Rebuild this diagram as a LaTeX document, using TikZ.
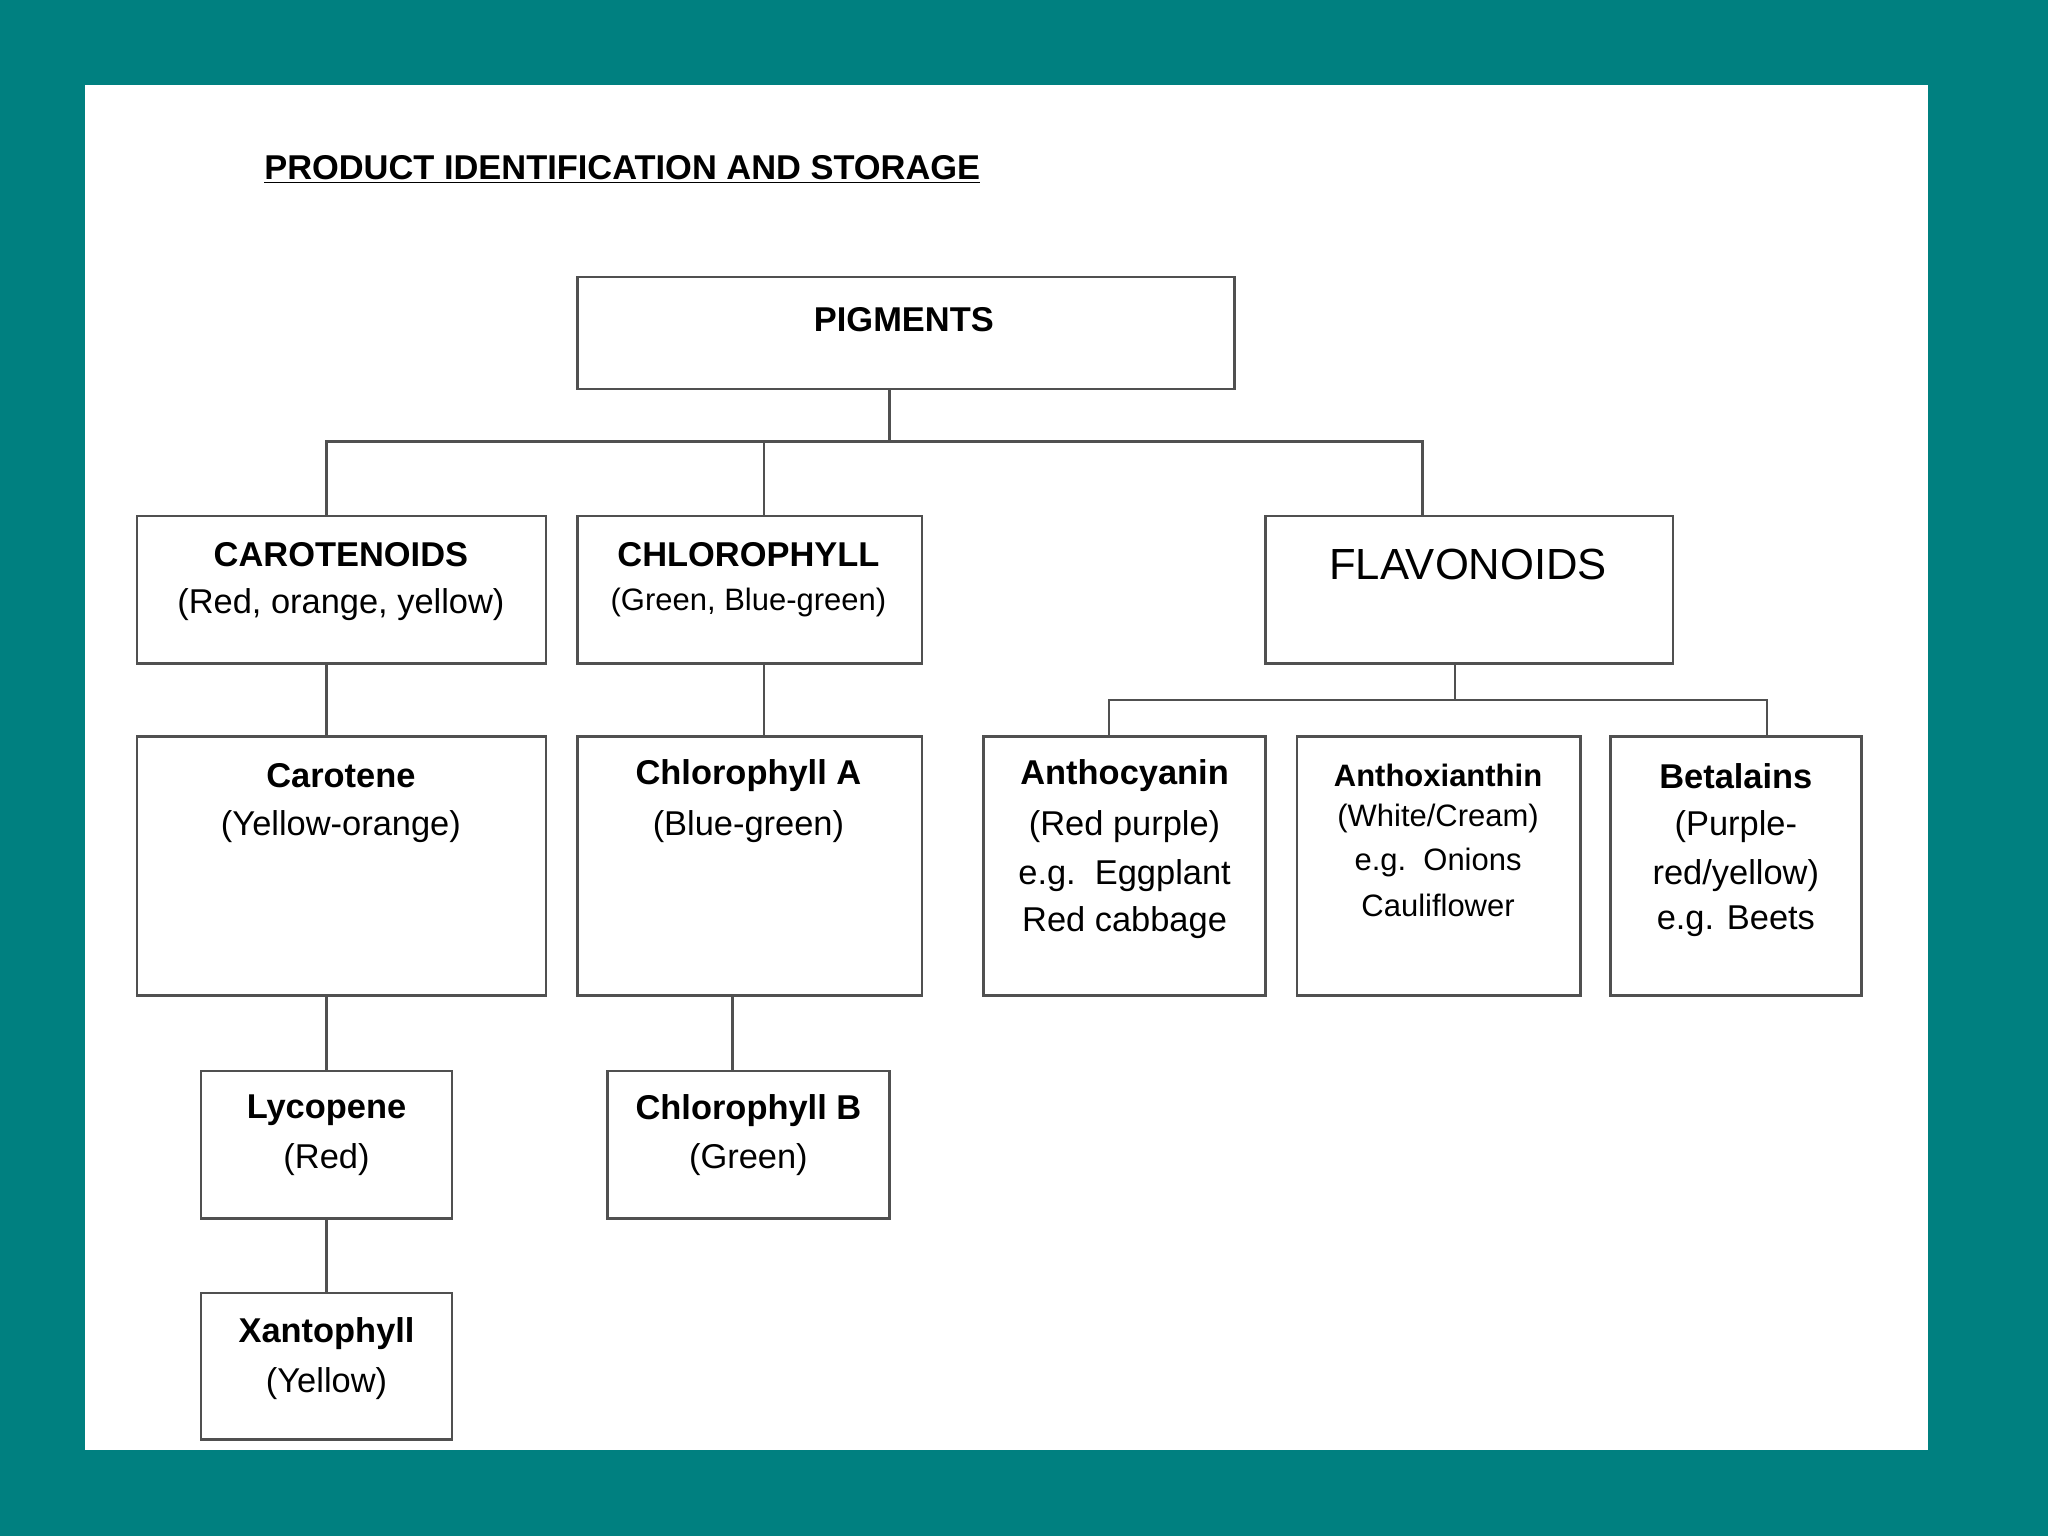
\documentclass[tikz,border=0pt]{standalone}
\usepackage{fontspec}
\setmainfont{Liberation Sans}
\definecolor{teal0}{RGB}{0,128,128}
\definecolor{ln}{RGB}{80,80,80}
\begin{document}
\begin{tikzpicture}[x=0.02cm,y=-0.02cm,
 box/.style={draw=ln,line width=1.1pt,inner sep=0,rectangle},
 con/.style={draw=ln,line width=1.1pt},
 t/.style={font=\fontsize{15}{18}\selectfont,inner sep=0},
 tb/.style={font=\fontsize{15}{18}\selectfont\bfseries,inner sep=0}]
\fill[teal0] (0,0) rectangle (1568,1176);
\useasboundingbox (0,0) rectangle (1568,1176);
\fill[white] (65,65) rectangle (1476,1110);
\node[anchor=west,inner sep=0,font=\fontsize{15}{18}\selectfont\bfseries] (title) at (202,130) {\underline{PRODUCT IDENTIFICATION AND STORAGE}};
% boxes
\newcommand\bx[5]{\node[box,minimum width={(#4-#2)*0.02cm},minimum height={(#5-#3)*0.02cm}] (#1) at ({(#2+#4)/2},{(#3+#5)/2}) {};}
\bx{pig}{442}{212}{945}{298}
\bx{car}{105}{395}{418}{508}
\bx{chl}{442}{395}{706}{508}
\bx{fla}{969}{395}{1281}{508}
\bx{cat}{105}{564}{418}{762}
\bx{cha}{442}{564}{706}{762}
\bx{ant}{753}{564}{969}{762}
\bx{anx}{993}{564}{1210}{762}
\bx{bet}{1233}{564}{1425}{762}
\bx{lyc}{154}{820}{346}{933}
\bx{chb}{465}{820}{681}{933}
\bx{xan}{154}{990}{346}{1102}
% texts
\node[tb] (tpig) at (692,245) {PIGMENTS};
\node[tb] (tcar1) at (261,425) {CAROTENOIDS};
\node[t] (tcar2) at (261,463) {(Red, orange, yellow)};
\node[tb] (tchl1) at (573,425) {CHLOROPHYLL};
\node[t,font=\fontsize{13.5}{16}\selectfont] (tchl2) at (573,461) {(Green, Blue-green)};
\node[t,font=\fontsize{19}{22}\selectfont] (tfla) at (1124,432) {FLAVONOIDS};
\node[tb] (tcat1) at (261,594) {Carotene};
\node[t] (tcat2) at (261,633) {(Yellow-orange)};
\node[tb] (tcha1) at (573,594) {Chlorophyll A};
\node[t] (tcha2) at (573,633) {(Blue-green)};
\node[tb] (tant1) at (861,594) {Anthocyanin};
\node[t] (tant2) at (861,633) {(Red purple)};
\node[t] (tant3) at (861,670) {e.g.\ \ Eggplant};
\node[t] (tant4) at (861,706) {Red cabbage};
\node[tb,font=\fontsize{13.5}{16}\selectfont\bfseries] (tanx1) at (1101,594) {Anthoxianthin};
\node[t,font=\fontsize{13.5}{16}\selectfont] (tanx2) at (1101,627) {(White/Cream)};
\node[t,font=\fontsize{13.5}{16}\selectfont] (tanx3) at (1101,660) {e.g.\ \ Onions};
\node[t,font=\fontsize{13.5}{16}\selectfont] (tanx4) at (1101,693) {Cauliflower};
\node[tb] (tbet1) at (1329,594) {Betalains};
\node[t] (tbet2) at (1329,633) {(Purple-};
\node[t] (tbet3) at (1329,670) {red/yellow)};
\node[t] (tbet4) at (1329,705) {e.g. Beets};
\node[tb] (tlyc1) at (250,850) {Lycopene};
\node[t] (tlyc2) at (250,888) {(Red)};
\node[tb] (tchb1) at (573,850) {Chlorophyll B};
\node[t] (tchb2) at (573,888) {(Green)};
\node[tb] (txan1) at (250,1021) {Xantophyll};
\node[t] (txan2) at (250,1059) {(Yellow)};
% connectors
\coordinate (b1) at (681,338);
\coordinate (b2) at (1114,536);
\draw[con] (pig.south -| b1) -- (b1);
\draw[con] (car.north -| 250,0) |- (b1) -| (fla.north -| 1089,0);
\draw[con] (chl.north -| 585,0) -- (585,338);
\draw[con] (fla.south -| b2) -- (b2);
\draw[con] (ant.north -| 849,0) |- (b2) -| (bet.north -| 1353,0);
\draw[con] (car.south -| 250,0) -- (cat.north -| 250,0);
\draw[con] (chl.south -| 585,0) -- (cha.north -| 585,0);
\draw[con] (cat.south -| 250,0) -- (lyc.north -| 250,0);
\draw[con] (cha.south -| 561,0) -- (chb.north -| 561,0);
\draw[con] (lyc.south) -- (xan.north);
\end{tikzpicture}
\end{document}
